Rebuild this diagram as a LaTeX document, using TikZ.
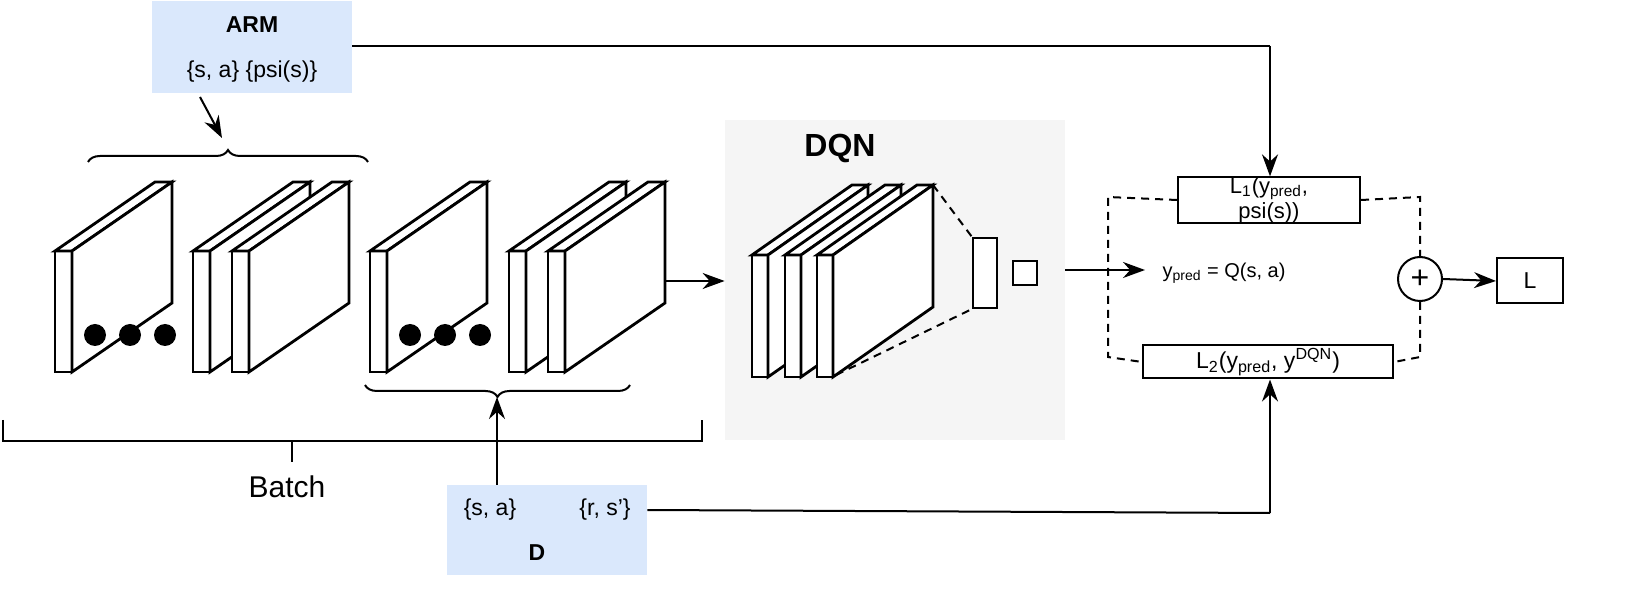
\documentclass[tikz,border=0pt]{standalone}
\usepackage{fontspec}
\setmainfont{Liberation Sans}
\usetikzlibrary{decorations.pathreplacing,arrows.meta}
\definecolor{bluebox}{HTML}{DAE8FC}
\definecolor{graybox}{HTML}{F5F5F5}
\newcommand\myslab[6]{% x, ytop, w, h, dx, dy
  \draw[slab] (#1,#2) rectangle ({#1+#3},{#2+#4});
  \draw[slab] (#1,#2) -- ({#1+#5},{#2-#6}) -- ({#1+#3+#5},{#2-#6}) -- ({#1+#3},#2) -- cycle;
  \draw[slab] ({#1+#3},#2) -- ({#1+#3+#5},{#2-#6}) -- ({#1+#3+#5},{#2+#4-#6}) -- ({#1+#3},{#2+#4}) -- cycle;}
\begin{document}
\begin{tikzpicture}[x=0.5pt,y=-0.5pt,
  slab/.style={draw,fill=white,line width=1.4pt},
  ln/.style={line width=1pt},
  arr/.style={ln,-{Stealth[length=11pt,width=8pt]}},
  box/.style={draw,line width=1pt,fill=white,inner sep=0pt},
  dsh/.style={ln,dash pattern=on 4pt off 3pt},
  brc/.style={ln,decorate,decoration={brace,amplitude=6pt}},
  every node/.style={font=\fontsize{11.5}{13}\selectfont}]
\useasboundingbox (0,0) rectangle (1626,603);
% ARM box
\node[fill=bluebox,minimum width=100pt,minimum height=46pt,inner sep=0pt] (arm) at (252,47.5) {};
\node[font=\fontsize{11.5}{13}\selectfont\bfseries] (armt) at (252,25) {ARM};
\node (armx) at (252,72) {\{s, a\} \{psi(s)\}};
% D box
\node[fill=bluebox,minimum width=100pt,minimum height=45pt,inner sep=0pt] (d) at (547,530) {};
\node (d1) at (490,510) {\{s, a\}};
\node (d2) at (605,510) {\{r, s'\}};
\node[font=\fontsize{11.5}{13}\selectfont\bfseries] (dt) at (537,553) {D};
% DQN box
\node[fill=graybox,minimum width=170pt,minimum height=160pt,inner sep=0pt] (dqn) at (895,280) {};
\node[font=\fontsize{16}{18}\selectfont\bfseries] (dqnt) at (840,148) {DQN};
% slabs batch
\myslab{55}{251}{17}{121}{100}{69}
\myslab{193}{251}{17}{121}{100}{69}
\myslab{232}{251}{17}{121}{100}{69}
\myslab{370}{251}{17}{121}{100}{69}
\myslab{509}{251}{17}{121}{100}{69}
\myslab{548}{251}{17}{121}{100}{69}
\foreach \x in {95,130,165,410,445,480} \fill (\x,335) circle (5.5pt);
% DQN slabs
\myslab{752}{255}{16}{122}{100}{70}
\myslab{785}{255}{16}{122}{100}{70}
\myslab{817}{255}{16}{122}{100}{70}
\node[box,minimum width=12pt,minimum height=35pt] (fc) at (985,273) {};
\node[box,minimum width=12pt,minimum height=12pt] (out) at (1025,273) {};
\draw[dsh] (933,185) -- (fc.north west);
\draw[dsh] (836,375) -- (fc.south west);
% batch arrow
\coordinate (bo) at (665,281);
\draw[arr] (bo) -- (dqn.west |- bo);
% braces
\draw[brc] (88,162) -- (368,162);
\draw[brc] (630,385) -- (365,385);
\draw[ln] (3,420) -- (3,441) -- (702,441) -- (702,420);
\draw[ln] (292,441) -- (292,462);
\node[font=\fontsize{15}{17}\selectfont] (batch) at (287,487) {Batch};
\draw[arr] (200,97) -- (222,138);
\draw[arr] (497,485) -- (497,397);
% right part
\node[box,minimum width=91pt,minimum height=22.5pt,align=center,font=\fontsize{11}{11}\selectfont] (l1) at (1269,200) {L\textsubscript{1}(y\textsubscript{pred},\\psi(s))};
\node[box,minimum width=125pt,minimum height=16.5pt,font=\fontsize{11.5}{13}\selectfont] (l2) at (1268,362) {L\textsubscript{2}(y\textsubscript{pred}, y\textsuperscript{DQN})};
\node[font=\fontsize{10}{12}\selectfont] (yp) at (1224,273) {y\textsubscript{pred} = Q(s, a)};
\node[draw,circle,line width=1pt,minimum size=22pt,inner sep=0pt,font=\fontsize{16}{16}\selectfont] (plus) at (1420,279) {+};
\node[box,minimum width=33pt,minimum height=22.5pt] (L) at (1530,281) {L};
\draw[dsh] (l1.west) -- (1108,197) -- (1108,357) -- (l2.west);
\draw[dsh] (l1.east) -- (1420,197) -- (plus.north);
\draw[dsh] (plus.south) -- (1420,357) -- (l2.east);
\coordinate (in) at (1065,270);
\draw[arr] (in) -- (1145,270);
\draw[arr] (plus.east) -- (L.west);
\draw[ln] (arm.east |- 0,46) -- (1270,46);
\draw[arr] (1270,46) -- (l1.north -| 1270,0);
\draw[ln] (d.east |- 0,510) -- (1270,513);
\draw[arr] (1270,513) -- (l2.south -| 1270,0);
\end{tikzpicture}
\end{document}
